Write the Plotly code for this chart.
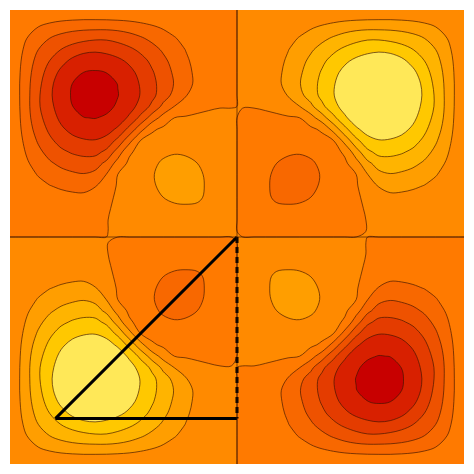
import numpy as np
import plotly.graph_objects as go

# grid nodes of one quadrant (x = y), the edge node at 1.0 is added separately
node_pos = [0.025, 0.075, 0.125, 0.175, 0.225, 0.275, 0.325, 0.375, 0.425, 0.475,
            0.525, 0.575, 0.625, 0.675, 0.725, 0.775, 0.825, 0.875, 0.925, 0.975]
edge_pos = 1.0

# values x100 of the upper-right quadrant, lower triangle (row = y node, col = x node)
quad_x100 = [
    [-1],
    [-5, -38],
    [-6, -45, -93],
    [-6, -48, -89, -110],
    [-4, -34, -82, -129, -155],
    [-3, -31, -78, -123, -144, -148],
    [-2, -23, -60, -100, -122, -118, -109],
    [-2, -17, -42, -66, -87, -95, -87, -66],
    [-1, -10, -27, -47, -62, -62, -56, -32, -1],
    [-1, -6, -16, -27, -35, -33, -18, 16, 137, 270],
    [-0.3, -3, -7, -10, -8, -1, 61, 156, 274, 383, 459],
    [0.05, 0.5, 4, 16, 46, 97, 175, 278, 366, 442, 489, 521],
    [1, 9, 27, 57, 106, 172, 246, 330, 396, 455, 503, 536, 551],
    [1, 13, 39, 78, 132, 194, 260, 327, 392, 451, 498, 530, 541, 531],
    [1, 14, 39, 77, 127, 184, 247, 311, 373, 428, 471, 499, 509, 501, 474],
    [1, 12, 35, 70, 114, 166, 223, 281, 336, 384, 422, 447, 456, 451, 425, 367],
    [1, 10, 30, 59, 97, 140, 187, 235, 281, 321, 353, 374, 385, 376, 342, 302, 259],
    [1, 8, 23, 45, 73, 106, 142, 178, 213, 244, 269, 287, 286, 272, 256, 234, 201, 156],
    [1, 5, 14, 28, 46, 67, 89, 112, 134, 154, 167, 172, 172, 172, 165, 151, 130, 101, 65],
    [1, 2, 5, 10, 16, 23, 31, 38, 45, 51, 55, 59, 61, 61, 58, 54, 46, 36, 23, 8],
]
edge_x100 = 1

levels = dict(start=-5, end=4, size=1)
band_colors = ["#c80000", "#d82000", "#e43c00", "#ee5200", "#f86800", "#ff7a00",
               "#ff8a00", "#ff9e00", "#ffb400", "#ffc800", "#ffe858"]

# overlay triangle
tri_corner = (-0.8, -0.8)
tri_apex = (0.0, 0.0)

# build the full field from the quadrant (odd in x and in y)
n = len(node_pos)
Q = np.full((n + 1, n + 1), edge_x100 / 100)
for i, row in enumerate(quad_x100):
    for j, v in enumerate(row):
        Q[i, j] = Q[j, i] = v / 100
Z = np.block([[Q[::-1, ::-1], -Q[::-1, :]],
              [-Q[:, ::-1], Q]])
half = np.array(node_pos + [edge_pos])
ax = np.r_[-half[::-1], half]

colorscale = [[i / (len(band_colors) - 1), c] for i, c in enumerate(band_colors)]
line_color = "rgba(60,20,0,0.65)"

fig = go.Figure()
fig.add_trace(go.Contour(
    x=ax, y=ax, z=Z,
    colorscale=colorscale, showscale=False,
    contours=dict(coloring="fill", **levels),
    line=dict(color=line_color, width=1, smoothing=1),
    hoverinfo="skip",
))
fig.add_hline(y=0, line=dict(color=line_color, width=1))
fig.add_vline(x=0, line=dict(color=line_color, width=1))

cx, cy = tri_corner
axx, ayy = tri_apex
fig.add_trace(go.Scatter(x=[cx, axx], y=[cy, ayy], mode="lines", line=dict(color="black", width=3)))
fig.add_trace(go.Scatter(x=[cx, axx], y=[cy, cy], mode="lines", line=dict(color="black", width=3)))
fig.add_trace(go.Scatter(x=[axx, axx], y=[ayy, cy], mode="lines",
                         line=dict(color="black", width=3, dash="6px,4px")))

fig.update_layout(
    width=458, height=458, margin=dict(l=2, r=2, t=2, b=2),
    paper_bgcolor="white", plot_bgcolor="white", showlegend=False,
    xaxis=dict(range=[-1, 1], visible=False),
    yaxis=dict(range=[-1, 1], visible=False),
)
fig.write_html("out.html")
